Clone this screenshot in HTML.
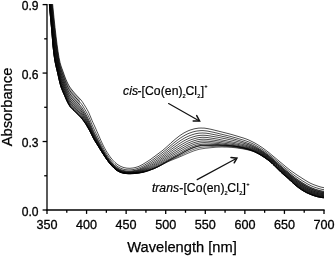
<!DOCTYPE html>
<html><head><meta charset="utf-8"><title>Absorbance spectra</title>
<style>
html,body{margin:0;padding:0;background:#fff;}
svg{display:block;font-family:"Liberation Sans",Arial,sans-serif;}
</style></head><body>
<svg width="335" height="256" viewBox="0 0 335 256">
<rect width="335" height="256" fill="#fff"/>
<defs><linearGradient id="g1" gradientUnits="userSpaceOnUse" x1="240" y1="0" x2="324" y2="0">
<stop offset="0" stop-color="#000" stop-opacity="0"/><stop offset="0.28" stop-color="#000" stop-opacity="0.6"/><stop offset="1" stop-color="#000" stop-opacity="0.65"/></linearGradient>
<linearGradient id="g2" gradientUnits="userSpaceOnUse" x1="47" y1="0" x2="150" y2="0">
<stop offset="0.000" stop-color="#000" stop-opacity="0.7"/><stop offset="0.146" stop-color="#000" stop-opacity="0.6"/><stop offset="0.223" stop-color="#000" stop-opacity="0.35"/><stop offset="0.359" stop-color="#000" stop-opacity="0.3"/><stop offset="0.466" stop-color="#000" stop-opacity="0.5"/><stop offset="0.854" stop-color="#000" stop-opacity="0.5"/><stop offset="1.000" stop-color="#000" stop-opacity="0"/></linearGradient><clipPath id="c"><rect x="47.0" y="3.9" width="276.9" height="206.1"/></clipPath></defs>
<g clip-path="url(#c)" fill="none" stroke="#000" stroke-width="0.7" stroke-linejoin="round">
<path d="M52.0,-2.2 53.0,7.8 54.0,17.8 55.0,27.3 56.0,36.1 57.0,44.2 58.0,51.3 59.0,57.5 60.0,62.4 61.0,65.9 62.0,68.7 63.0,71.4 64.0,74.3 65.0,77.1 66.0,79.6 67.0,81.8 68.0,83.9 69.0,85.7 70.0,87.3 71.0,88.7 72.0,90.0 73.0,91.2 74.0,92.4 75.0,93.6 76.0,94.7 77.0,95.8 78.0,96.8 79.0,97.9 80.0,98.9 81.0,100.0 82.0,101.3 83.0,102.8 84.0,104.4 85.0,106.0 86.0,107.6 87.0,109.3 88.0,111.1 89.0,113.1 90.0,115.5 91.0,118.0 92.0,120.4 93.0,122.7 94.0,124.8 95.0,127.0 96.0,129.2 97.0,131.5 98.0,133.7 99.0,136.1 100.0,138.4 101.0,140.7 102.0,142.9 103.0,145.0 104.0,147.0 105.0,148.8 106.0,150.5 107.0,152.2 108.0,153.7 109.0,155.2 110.0,156.7 111.0,158.0 112.0,159.2 113.0,160.4 114.0,161.4 115.0,162.4 116.0,163.3 117.0,164.1 118.0,164.8 119.0,165.4 120.0,166.0 121.0,166.5 122.0,166.9 123.0,167.3 124.0,167.6 125.0,167.8 126.0,168.0 127.0,168.2 128.0,168.2 129.0,168.3 130.0,168.3 131.0,168.2 132.0,168.1 133.0,168.0 134.0,167.8 135.0,167.6 136.0,167.3 137.0,167.0 138.0,166.7 139.0,166.3 140.0,165.8 141.0,165.3 142.0,164.8 143.0,164.2 144.0,163.6 145.0,163.0 146.0,162.4 147.0,161.7 148.0,161.1 149.0,160.4 150.0,159.8 151.0,159.1 152.0,158.3 153.0,157.6 154.0,156.9 155.0,156.1 156.0,155.4 157.0,154.6 158.0,153.9 159.0,153.1 160.0,152.4 161.0,151.6 162.0,150.9 163.0,150.1 164.0,149.2 165.0,148.4 166.0,147.5 167.0,146.6 168.0,145.7 169.0,144.8 170.0,143.9 171.0,142.9 172.0,142.0 173.0,141.1 174.0,140.3 175.0,139.4 176.0,138.6 177.0,137.8 178.0,137.0 179.0,136.2 180.0,135.5 181.0,134.8 182.0,134.2 183.0,133.5 184.0,132.9 185.0,132.4 186.0,131.9 187.0,131.4 188.0,130.9 189.0,130.5 190.0,130.1 191.0,129.8 192.0,129.5 193.0,129.2 194.0,128.9 195.0,128.7 196.0,128.5 197.0,128.4 198.0,128.2 199.0,128.1 200.0,128.1 201.0,128.0 202.0,128.1 203.0,128.1 204.0,128.1 205.0,128.2 206.0,128.4 207.0,128.5 208.0,128.7 209.0,128.9 210.0,129.1 211.0,129.3 212.0,129.5 213.0,129.8 214.0,130.0 215.0,130.3 216.0,130.5 217.0,130.8 218.0,131.0 219.0,131.3 220.0,131.5 221.0,131.8 222.0,132.0 223.0,132.3 224.0,132.5 225.0,132.8 226.0,133.0 227.0,133.3 228.0,133.5 229.0,133.8 230.0,134.1 231.0,134.3 232.0,134.6 233.0,134.9 234.0,135.2 235.0,135.5 236.0,135.8 237.0,136.1 238.0,136.4 239.0,136.7 240.0,137.0 241.0,137.3 242.0,137.6 243.0,137.9 244.0,138.2 245.0,138.6 246.0,138.9 247.0,139.3 248.0,139.7 249.0,140.1 250.0,140.6 251.0,141.1 252.0,141.6 253.0,142.1 254.0,142.6 255.0,143.1 256.0,143.7 257.0,144.3 258.0,144.9 259.0,145.5 260.0,146.2 261.0,146.8 262.0,147.5 263.0,148.2 264.0,148.9 265.0,149.7 266.0,150.4 267.0,151.2 268.0,151.9 269.0,152.7 270.0,153.5 271.0,154.4 272.0,155.2 273.0,156.0 274.0,156.9 275.0,157.7 276.0,158.5 277.0,159.4 278.0,160.2 279.0,161.0 280.0,161.9 281.0,162.7 282.0,163.5 283.0,164.4 284.0,165.2 285.0,166.0 286.0,166.9 287.0,167.7 288.0,168.5 289.0,169.3 290.0,170.1 291.0,170.8 292.0,171.5 293.0,172.2 294.0,172.9 295.0,173.6 296.0,174.3 297.0,175.0 298.0,175.6 299.0,176.3 300.0,176.9 301.0,177.5 302.0,178.2 303.0,178.8 304.0,179.5 305.0,180.1 306.0,180.7 307.0,181.3 308.0,181.9 309.0,182.5 310.0,183.0 311.0,183.5 312.0,183.9 313.0,184.4 314.0,184.8 315.0,185.1 316.0,185.5 317.0,185.8 318.0,186.2 319.0,186.5 320.0,186.8 321.0,187.1 322.0,187.3 323.0,187.5 324.0,187.7"/>
<path d="M52.0,4.3 53.0,14.7 54.0,24.5 55.0,33.5 56.0,41.6 57.0,49.0 58.0,55.6 59.0,61.5 60.0,66.2 61.0,69.7 62.0,72.5 63.0,75.2 64.0,77.9 65.0,80.6 66.0,83.1 67.0,85.3 68.0,87.4 69.0,89.2 70.0,90.8 71.0,92.2 72.0,93.4 73.0,94.6 74.0,95.7 75.0,96.9 76.0,98.0 77.0,99.0 78.0,100.1 79.0,101.2 80.0,102.3 81.0,103.4 82.0,104.8 83.0,106.3 84.0,108.0 85.0,109.7 86.0,111.4 87.0,113.2 88.0,115.2 89.0,117.3 90.0,119.6 91.0,122.1 92.0,124.6 93.0,126.9 94.0,129.0 95.0,131.2 96.0,133.2 97.0,135.3 98.0,137.5 99.0,139.6 100.0,141.7 101.0,143.8 102.0,145.8 103.0,147.7 104.0,149.6 105.0,151.3 106.0,153.0 107.0,154.5 108.0,156.1 109.0,157.5 110.0,158.9 111.0,160.2 112.0,161.4 113.0,162.5 114.0,163.5 115.0,164.5 116.0,165.3 117.0,166.1 118.0,166.8 119.0,167.4 120.0,167.9 121.0,168.3 122.0,168.7 123.0,169.1 124.0,169.3 125.0,169.6 126.0,169.7 127.0,169.8 128.0,169.9 129.0,169.9 130.0,169.9 131.0,169.8 132.0,169.7 133.0,169.6 134.0,169.4 135.0,169.2 136.0,168.9 137.0,168.6 138.0,168.3 139.0,167.9 140.0,167.5 141.0,167.0 142.0,166.5 143.0,166.0 144.0,165.4 145.0,164.8 146.0,164.2 147.0,163.6 148.0,163.0 149.0,162.3 150.0,161.7 151.0,161.0 152.0,160.3 153.0,159.6 154.0,158.9 155.0,158.1 156.0,157.4 157.0,156.7 158.0,155.9 159.0,155.2 160.0,154.4 161.0,153.7 162.0,152.9 163.0,152.1 164.0,151.3 165.0,150.5 166.0,149.7 167.0,148.8 168.0,147.9 169.0,147.1 170.0,146.2 171.0,145.3 172.0,144.5 173.0,143.6 174.0,142.8 175.0,142.0 176.0,141.2 177.0,140.5 178.0,139.7 179.0,139.0 180.0,138.3 181.0,137.6 182.0,137.0 183.0,136.4 184.0,135.8 185.0,135.2 186.0,134.7 187.0,134.2 188.0,133.7 189.0,133.3 190.0,132.9 191.0,132.6 192.0,132.2 193.0,131.9 194.0,131.7 195.0,131.4 196.0,131.2 197.0,131.0 198.0,130.9 199.0,130.8 200.0,130.7 201.0,130.6 202.0,130.6 203.0,130.6 204.0,130.7 205.0,130.8 206.0,130.9 207.0,131.0 208.0,131.2 209.0,131.4 210.0,131.6 211.0,131.8 212.0,132.0 213.0,132.2 214.0,132.4 215.0,132.7 216.0,132.9 217.0,133.1 218.0,133.4 219.0,133.6 220.0,133.9 221.0,134.1 222.0,134.3 223.0,134.6 224.0,134.8 225.0,135.1 226.0,135.3 227.0,135.5 228.0,135.8 229.0,136.0 230.0,136.3 231.0,136.5 232.0,136.8 233.0,137.1 234.0,137.4 235.0,137.6 236.0,137.9 237.0,138.2 238.0,138.5 239.0,138.8 240.0,139.1 241.0,139.4 242.0,139.7 243.0,140.0 244.0,140.3 245.0,140.6 246.0,141.0 247.0,141.3 248.0,141.7 249.0,142.1 250.0,142.5 251.0,143.0 252.0,143.4 253.0,143.9 254.0,144.4 255.0,144.9 256.0,145.5 257.0,146.1 258.0,146.7 259.0,147.3 260.0,147.9 261.0,148.6 262.0,149.2 263.0,149.9 264.0,150.6 265.0,151.3 266.0,152.0 267.0,152.8 268.0,153.6 269.0,154.3 270.0,155.2 271.0,156.0 272.0,156.8 273.0,157.7 274.0,158.6 275.0,159.4 276.0,160.3 277.0,161.2 278.0,162.0 279.0,162.9 280.0,163.8 281.0,164.6 282.0,165.5 283.0,166.3 284.0,167.2 285.0,168.0 286.0,168.8 287.0,169.6 288.0,170.5 289.0,171.3 290.0,172.1 291.0,172.9 292.0,173.7 293.0,174.4 294.0,175.2 295.0,175.9 296.0,176.6 297.0,177.3 298.0,177.9 299.0,178.6 300.0,179.3 301.0,179.9 302.0,180.6 303.0,181.2 304.0,181.8 305.0,182.4 306.0,183.0 307.0,183.6 308.0,184.2 309.0,184.7 310.0,185.2 311.0,185.7 312.0,186.2 313.0,186.6 314.0,187.0 315.0,187.3 316.0,187.7 317.0,188.0 318.0,188.3 319.0,188.6 320.0,188.9 321.0,189.1 322.0,189.4 323.0,189.5 324.0,189.7"/>
<path d="M51.0,-0.5 52.0,10.0 53.0,20.8 54.0,30.4 55.0,38.9 56.0,46.3 57.0,53.1 58.0,59.3 59.0,64.9 60.0,69.6 61.0,73.0 62.0,75.8 63.0,78.4 64.0,81.1 65.0,83.7 66.0,86.2 67.0,88.4 68.0,90.4 69.0,92.2 70.0,93.8 71.0,95.2 72.0,96.4 73.0,97.5 74.0,98.6 75.0,99.7 76.0,100.8 77.0,101.9 78.0,103.0 79.0,104.0 80.0,105.1 81.0,106.3 82.0,107.7 83.0,109.2 84.0,110.9 85.0,112.6 86.0,114.4 87.0,116.3 88.0,118.3 89.0,120.4 90.0,122.8 91.0,125.2 92.0,127.6 93.0,129.9 94.0,132.1 95.0,134.1 96.0,136.1 97.0,138.1 98.0,140.1 99.0,142.1 100.0,144.0 101.0,146.0 102.0,147.9 103.0,149.7 104.0,151.4 105.0,153.1 106.0,154.7 107.0,156.2 108.0,157.7 109.0,159.1 110.0,160.4 111.0,161.7 112.0,162.9 113.0,164.0 114.0,165.0 115.0,165.9 116.0,166.7 117.0,167.5 118.0,168.1 119.0,168.7 120.0,169.2 121.0,169.7 122.0,170.0 123.0,170.3 124.0,170.6 125.0,170.8 126.0,170.9 127.0,171.0 128.0,171.1 129.0,171.1 130.0,171.1 131.0,171.0 132.0,170.9 133.0,170.7 134.0,170.6 135.0,170.4 136.0,170.1 137.0,169.9 138.0,169.5 139.0,169.2 140.0,168.8 141.0,168.3 142.0,167.9 143.0,167.4 144.0,166.9 145.0,166.3 146.0,165.7 147.0,165.2 148.0,164.6 149.0,163.9 150.0,163.3 151.0,162.7 152.0,162.0 153.0,161.3 154.0,160.6 155.0,159.9 156.0,159.2 157.0,158.5 158.0,157.8 159.0,157.0 160.0,156.3 161.0,155.6 162.0,154.8 163.0,154.0 164.0,153.3 165.0,152.5 166.0,151.7 167.0,150.8 168.0,150.0 169.0,149.2 170.0,148.4 171.0,147.5 172.0,146.7 173.0,145.9 174.0,145.2 175.0,144.4 176.0,143.7 177.0,143.0 178.0,142.2 179.0,141.6 180.0,140.9 181.0,140.2 182.0,139.6 183.0,139.0 184.0,138.4 185.0,137.8 186.0,137.3 187.0,136.8 188.0,136.4 189.0,135.9 190.0,135.5 191.0,135.2 192.0,134.8 193.0,134.5 194.0,134.2 195.0,133.9 196.0,133.7 197.0,133.5 198.0,133.3 199.0,133.2 200.0,133.1 201.0,133.1 202.0,133.0 203.0,133.0 204.0,133.1 205.0,133.1 206.0,133.2 207.0,133.3 208.0,133.5 209.0,133.6 210.0,133.8 211.0,134.0 212.0,134.2 213.0,134.4 214.0,134.6 215.0,134.8 216.0,135.0 217.0,135.2 218.0,135.4 219.0,135.6 220.0,135.8 221.0,136.0 222.0,136.3 223.0,136.5 224.0,136.7 225.0,136.9 226.0,137.1 227.0,137.4 228.0,137.6 229.0,137.8 230.0,138.1 231.0,138.3 232.0,138.6 233.0,138.8 234.0,139.1 235.0,139.4 236.0,139.6 237.0,139.9 238.0,140.2 239.0,140.5 240.0,140.8 241.0,141.1 242.0,141.4 243.0,141.7 244.0,142.0 245.0,142.3 246.0,142.6 247.0,143.0 248.0,143.3 249.0,143.7 250.0,144.1 251.0,144.5 252.0,144.9 253.0,145.4 254.0,145.9 255.0,146.4 256.0,146.9 257.0,147.5 258.0,148.1 259.0,148.7 260.0,149.3 261.0,149.9 262.0,150.6 263.0,151.3 264.0,151.9 265.0,152.6 266.0,153.4 267.0,154.1 268.0,154.9 269.0,155.6 270.0,156.5 271.0,157.3 272.0,158.2 273.0,159.0 274.0,159.9 275.0,160.8 276.0,161.7 277.0,162.6 278.0,163.5 279.0,164.4 280.0,165.3 281.0,166.1 282.0,167.0 283.0,167.9 284.0,168.7 285.0,169.5 286.0,170.4 287.0,171.2 288.0,172.0 289.0,172.9 290.0,173.7 291.0,174.5 292.0,175.4 293.0,176.1 294.0,176.9 295.0,177.7 296.0,178.4 297.0,179.1 298.0,179.8 299.0,180.5 300.0,181.2 301.0,181.8 302.0,182.5 303.0,183.1 304.0,183.7 305.0,184.3 306.0,184.9 307.0,185.5 308.0,186.0 309.0,186.6 310.0,187.0 311.0,187.5 312.0,187.9 313.0,188.3 314.0,188.7 315.0,189.1 316.0,189.4 317.0,189.7 318.0,190.0 319.0,190.3 320.0,190.6 321.0,190.8 322.0,191.0 323.0,191.2 324.0,191.3"/>
<path d="M51.0,4.3 52.0,14.9 53.0,26.0 54.0,35.5 55.0,43.6 56.0,50.5 57.0,56.7 58.0,62.5 59.0,67.9 60.0,72.4 61.0,75.9 62.0,78.7 63.0,81.2 64.0,83.9 65.0,86.4 66.0,88.8 67.0,91.0 68.0,93.0 69.0,94.9 70.0,96.5 71.0,97.8 72.0,99.0 73.0,100.0 74.0,101.1 75.0,102.2 76.0,103.3 77.0,104.3 78.0,105.4 79.0,106.5 80.0,107.6 81.0,108.8 82.0,110.2 83.0,111.7 84.0,113.3 85.0,115.0 86.0,116.8 87.0,118.7 88.0,120.7 89.0,122.8 90.0,125.1 91.0,127.5 92.0,129.9 93.0,132.1 94.0,134.3 95.0,136.3 96.0,138.1 97.0,140.0 98.0,141.9 99.0,143.8 100.0,145.7 101.0,147.5 102.0,149.3 103.0,151.0 104.0,152.7 105.0,154.3 106.0,155.9 107.0,157.4 108.0,158.8 109.0,160.2 110.0,161.5 111.0,162.8 112.0,163.9 113.0,165.0 114.0,166.0 115.0,166.9 116.0,167.7 117.0,168.5 118.0,169.1 119.0,169.7 120.0,170.2 121.0,170.6 122.0,170.9 123.0,171.2 124.0,171.4 125.0,171.6 126.0,171.8 127.0,171.9 128.0,171.9 129.0,171.9 130.0,171.9 131.0,171.8 132.0,171.7 133.0,171.6 134.0,171.4 135.0,171.2 136.0,171.0 137.0,170.8 138.0,170.5 139.0,170.2 140.0,169.8 141.0,169.4 142.0,169.0 143.0,168.5 144.0,168.1 145.0,167.5 146.0,167.0 147.0,166.5 148.0,165.9 149.0,165.3 150.0,164.7 151.0,164.1 152.0,163.5 153.0,162.9 154.0,162.2 155.0,161.5 156.0,160.9 157.0,160.2 158.0,159.5 159.0,158.7 160.0,158.0 161.0,157.3 162.0,156.6 163.0,155.8 164.0,155.1 165.0,154.3 166.0,153.5 167.0,152.7 168.0,151.9 169.0,151.1 170.0,150.4 171.0,149.6 172.0,148.8 173.0,148.1 174.0,147.4 175.0,146.7 176.0,146.0 177.0,145.3 178.0,144.6 179.0,143.9 180.0,143.3 181.0,142.6 182.0,142.0 183.0,141.4 184.0,140.8 185.0,140.3 186.0,139.7 187.0,139.3 188.0,138.8 189.0,138.3 190.0,137.9 191.0,137.6 192.0,137.2 193.0,136.9 194.0,136.6 195.0,136.3 196.0,136.0 197.0,135.8 198.0,135.6 199.0,135.5 200.0,135.4 201.0,135.3 202.0,135.3 203.0,135.2 204.0,135.3 205.0,135.3 206.0,135.4 207.0,135.5 208.0,135.6 209.0,135.8 210.0,135.9 211.0,136.1 212.0,136.3 213.0,136.4 214.0,136.6 215.0,136.8 216.0,137.0 217.0,137.1 218.0,137.3 219.0,137.5 220.0,137.7 221.0,137.9 222.0,138.1 223.0,138.3 224.0,138.5 225.0,138.7 226.0,138.9 227.0,139.1 228.0,139.3 229.0,139.5 230.0,139.8 231.0,140.0 232.0,140.2 233.0,140.4 234.0,140.7 235.0,140.9 236.0,141.2 237.0,141.5 238.0,141.7 239.0,142.0 240.0,142.2 241.0,142.5 242.0,142.8 243.0,143.1 244.0,143.4 245.0,143.7 246.0,144.0 247.0,144.3 248.0,144.6 249.0,145.0 250.0,145.4 251.0,145.8 252.0,146.2 253.0,146.6 254.0,147.1 255.0,147.6 256.0,148.1 257.0,148.6 258.0,149.2 259.0,149.8 260.0,150.4 261.0,151.0 262.0,151.7 263.0,152.3 264.0,153.0 265.0,153.7 266.0,154.4 267.0,155.1 268.0,155.9 269.0,156.7 270.0,157.5 271.0,158.3 272.0,159.2 273.0,160.1 274.0,161.0 275.0,161.9 276.0,162.8 277.0,163.7 278.0,164.6 279.0,165.5 280.0,166.5 281.0,167.3 282.0,168.2 283.0,169.1 284.0,169.9 285.0,170.8 286.0,171.6 287.0,172.4 288.0,173.3 289.0,174.1 290.0,175.0 291.0,175.8 292.0,176.7 293.0,177.5 294.0,178.3 295.0,179.1 296.0,179.8 297.0,180.6 298.0,181.3 299.0,182.0 300.0,182.6 301.0,183.3 302.0,184.0 303.0,184.6 304.0,185.2 305.0,185.8 306.0,186.4 307.0,186.9 308.0,187.5 309.0,188.0 310.0,188.4 311.0,188.9 312.0,189.3 313.0,189.7 314.0,190.1 315.0,190.4 316.0,190.8 317.0,191.1 318.0,191.3 319.0,191.6 320.0,191.9 321.0,192.1 322.0,192.3 323.0,192.5 324.0,192.6"/>
<path d="M50.0,-2.0 51.0,8.4 52.0,19.2 53.0,30.6 54.0,40.0 55.0,47.7 56.0,54.1 57.0,59.8 58.0,65.3 59.0,70.5 60.0,75.0 61.0,78.5 62.0,81.2 63.0,83.7 64.0,86.3 65.0,88.7 66.0,91.1 67.0,93.3 68.0,95.3 69.0,97.2 70.0,98.8 71.0,100.1 72.0,101.2 73.0,102.3 74.0,103.3 75.0,104.4 76.0,105.4 77.0,106.5 78.0,107.5 79.0,108.6 80.0,109.7 81.0,110.9 82.0,112.2 83.0,113.7 84.0,115.3 85.0,117.0 86.0,118.8 87.0,120.6 88.0,122.6 89.0,124.7 90.0,126.9 91.0,129.2 92.0,131.5 93.0,133.8 94.0,135.9 95.0,137.8 96.0,139.6 97.0,141.4 98.0,143.2 99.0,145.0 100.0,146.8 101.0,148.6 102.0,150.3 103.0,152.0 104.0,153.6 105.0,155.2 106.0,156.7 107.0,158.2 108.0,159.6 109.0,161.0 110.0,162.3 111.0,163.5 112.0,164.7 113.0,165.7 114.0,166.7 115.0,167.6 116.0,168.4 117.0,169.1 118.0,169.8 119.0,170.3 120.0,170.8 121.0,171.2 122.0,171.6 123.0,171.8 124.0,172.1 125.0,172.2 126.0,172.4 127.0,172.4 128.0,172.5 129.0,172.5 130.0,172.5 131.0,172.4 132.0,172.3 133.0,172.2 134.0,172.1 135.0,171.9 136.0,171.7 137.0,171.5 138.0,171.2 139.0,170.9 140.0,170.6 141.0,170.3 142.0,169.9 143.0,169.5 144.0,169.0 145.0,168.6 146.0,168.1 147.0,167.6 148.0,167.1 149.0,166.5 150.0,166.0 151.0,165.4 152.0,164.8 153.0,164.2 154.0,163.6 155.0,163.0 156.0,162.3 157.0,161.7 158.0,161.0 159.0,160.3 160.0,159.6 161.0,158.9 162.0,158.2 163.0,157.4 164.0,156.7 165.0,156.0 166.0,155.2 167.0,154.5 168.0,153.7 169.0,153.0 170.0,152.2 171.0,151.5 172.0,150.8 173.0,150.1 174.0,149.4 175.0,148.7 176.0,148.1 177.0,147.4 178.0,146.8 179.0,146.1 180.0,145.5 181.0,144.9 182.0,144.3 183.0,143.7 184.0,143.1 185.0,142.6 186.0,142.0 187.0,141.5 188.0,141.0 189.0,140.6 190.0,140.2 191.0,139.8 192.0,139.4 193.0,139.1 194.0,138.8 195.0,138.5 196.0,138.2 197.0,138.0 198.0,137.8 199.0,137.6 200.0,137.5 201.0,137.4 202.0,137.3 203.0,137.3 204.0,137.3 205.0,137.4 206.0,137.4 207.0,137.5 208.0,137.6 209.0,137.8 210.0,137.9 211.0,138.1 212.0,138.2 213.0,138.4 214.0,138.5 215.0,138.7 216.0,138.9 217.0,139.0 218.0,139.2 219.0,139.4 220.0,139.6 221.0,139.8 222.0,140.0 223.0,140.2 224.0,140.4 225.0,140.5 226.0,140.7 227.0,140.9 228.0,141.1 229.0,141.3 230.0,141.5 231.0,141.7 232.0,141.9 233.0,142.1 234.0,142.3 235.0,142.5 236.0,142.7 237.0,143.0 238.0,143.2 239.0,143.5 240.0,143.7 241.0,144.0 242.0,144.2 243.0,144.5 244.0,144.7 245.0,145.0 246.0,145.3 247.0,145.6 248.0,145.9 249.0,146.3 250.0,146.6 251.0,147.0 252.0,147.4 253.0,147.8 254.0,148.2 255.0,148.7 256.0,149.2 257.0,149.7 258.0,150.2 259.0,150.8 260.0,151.4 261.0,152.0 262.0,152.7 263.0,153.3 264.0,154.0 265.0,154.7 266.0,155.3 267.0,156.1 268.0,156.8 269.0,157.6 270.0,158.4 271.0,159.3 272.0,160.1 273.0,161.0 274.0,161.9 275.0,162.9 276.0,163.8 277.0,164.7 278.0,165.7 279.0,166.6 280.0,167.5 281.0,168.5 282.0,169.3 283.0,170.2 284.0,171.1 285.0,171.9 286.0,172.7 287.0,173.6 288.0,174.4 289.0,175.3 290.0,176.2 291.0,177.0 292.0,177.9 293.0,178.7 294.0,179.6 295.0,180.4 296.0,181.1 297.0,181.9 298.0,182.6 299.0,183.3 300.0,184.0 301.0,184.7 302.0,185.3 303.0,185.9 304.0,186.6 305.0,187.1 306.0,187.7 307.0,188.3 308.0,188.8 309.0,189.3 310.0,189.7 311.0,190.2 312.0,190.6 313.0,191.0 314.0,191.3 315.0,191.7 316.0,192.0 317.0,192.3 318.0,192.6 319.0,192.8 320.0,193.1 321.0,193.3 322.0,193.5 323.0,193.6 324.0,193.7"/>
<path d="M50.0,1.6 51.0,12.1 52.0,22.9 53.0,34.6 54.0,43.8 55.0,51.3 56.0,57.3 57.0,62.5 58.0,67.7 59.0,72.8 60.0,77.2 61.0,80.6 62.0,83.4 63.0,85.8 64.0,88.4 65.0,90.8 66.0,93.1 67.0,95.3 68.0,97.3 69.0,99.2 70.0,100.8 71.0,102.1 72.0,103.2 73.0,104.2 74.0,105.2 75.0,106.2 76.0,107.3 77.0,108.3 78.0,109.4 79.0,110.4 80.0,111.5 81.0,112.7 82.0,114.0 83.0,115.4 84.0,117.0 85.0,118.6 86.0,120.3 87.0,122.2 88.0,124.1 89.0,126.1 90.0,128.3 91.0,130.5 92.0,132.8 93.0,135.0 94.0,137.0 95.0,138.9 96.0,140.6 97.0,142.4 98.0,144.1 99.0,145.9 100.0,147.6 101.0,149.3 102.0,151.0 103.0,152.6 104.0,154.2 105.0,155.8 106.0,157.3 107.0,158.8 108.0,160.2 109.0,161.5 110.0,162.8 111.0,164.0 112.0,165.2 113.0,166.2 114.0,167.2 115.0,168.1 116.0,168.9 117.0,169.6 118.0,170.3 119.0,170.8 120.0,171.3 121.0,171.7 122.0,172.0 123.0,172.3 124.0,172.5 125.0,172.6 126.0,172.8 127.0,172.9 128.0,172.9 129.0,172.9 130.0,172.9 131.0,172.8 132.0,172.7 133.0,172.6 134.0,172.5 135.0,172.4 136.0,172.2 137.0,172.0 138.0,171.8 139.0,171.5 140.0,171.3 141.0,171.0 142.0,170.6 143.0,170.3 144.0,169.9 145.0,169.4 146.0,169.0 147.0,168.5 148.0,168.1 149.0,167.6 150.0,167.0 151.0,166.5 152.0,166.0 153.0,165.4 154.0,164.8 155.0,164.2 156.0,163.6 157.0,163.0 158.0,162.4 159.0,161.7 160.0,161.0 161.0,160.3 162.0,159.6 163.0,158.9 164.0,158.2 165.0,157.5 166.0,156.8 167.0,156.1 168.0,155.4 169.0,154.7 170.0,154.0 171.0,153.3 172.0,152.6 173.0,152.0 174.0,151.3 175.0,150.7 176.0,150.1 177.0,149.4 178.0,148.8 179.0,148.2 180.0,147.6 181.0,147.0 182.0,146.4 183.0,145.8 184.0,145.2 185.0,144.7 186.0,144.1 187.0,143.6 188.0,143.1 189.0,142.7 190.0,142.3 191.0,141.9 192.0,141.5 193.0,141.1 194.0,140.8 195.0,140.5 196.0,140.2 197.0,139.9 198.0,139.7 199.0,139.6 200.0,139.4 201.0,139.3 202.0,139.3 203.0,139.2 204.0,139.2 205.0,139.3 206.0,139.3 207.0,139.4 208.0,139.5 209.0,139.6 210.0,139.7 211.0,139.8 212.0,140.0 213.0,140.1 214.0,140.2 215.0,140.4 216.0,140.5 217.0,140.7 218.0,140.8 219.0,141.0 220.0,141.1 221.0,141.3 222.0,141.5 223.0,141.7 224.0,141.8 225.0,142.0 226.0,142.2 227.0,142.3 228.0,142.5 229.0,142.6 230.0,142.8 231.0,143.0 232.0,143.2 233.0,143.4 234.0,143.5 235.0,143.8 236.0,144.0 237.0,144.2 238.0,144.4 239.0,144.6 240.0,144.9 241.0,145.1 242.0,145.3 243.0,145.6 244.0,145.8 245.0,146.1 246.0,146.4 247.0,146.7 248.0,147.0 249.0,147.3 250.0,147.6 251.0,148.0 252.0,148.3 253.0,148.7 254.0,149.2 255.0,149.6 256.0,150.1 257.0,150.6 258.0,151.1 259.0,151.7 260.0,152.3 261.0,152.9 262.0,153.5 263.0,154.2 264.0,154.8 265.0,155.5 266.0,156.2 267.0,156.9 268.0,157.6 269.0,158.4 270.0,159.2 271.0,160.1 272.0,161.0 273.0,161.9 274.0,162.8 275.0,163.7 276.0,164.7 277.0,165.6 278.0,166.6 279.0,167.5 280.0,168.5 281.0,169.4 282.0,170.3 283.0,171.2 284.0,172.0 285.0,172.9 286.0,173.7 287.0,174.5 288.0,175.4 289.0,176.3 290.0,177.2 291.0,178.1 292.0,179.0 293.0,179.8 294.0,180.7 295.0,181.5 296.0,182.3 297.0,183.0 298.0,183.8 299.0,184.5 300.0,185.2 301.0,185.9 302.0,186.5 303.0,187.1 304.0,187.7 305.0,188.3 306.0,188.9 307.0,189.4 308.0,189.9 309.0,190.4 310.0,190.9 311.0,191.3 312.0,191.7 313.0,192.1 314.0,192.4 315.0,192.8 316.0,193.1 317.0,193.4 318.0,193.6 319.0,193.9 320.0,194.1 321.0,194.3 322.0,194.5 323.0,194.6 324.0,194.8"/>
<path d="M50.0,4.7 51.0,15.2 52.0,26.2 53.0,38.0 54.0,47.2 55.0,54.4 56.0,60.0 57.0,64.9 58.0,69.9 59.0,74.7 60.0,79.1 61.0,82.6 62.0,85.3 63.0,87.7 64.0,90.2 65.0,92.6 66.0,94.9 67.0,97.1 68.0,99.1 69.0,100.9 70.0,102.5 71.0,103.8 72.0,104.9 73.0,105.8 74.0,106.8 75.0,107.9 76.0,108.9 77.0,109.9 78.0,111.0 79.0,112.0 80.0,113.1 81.0,114.2 82.0,115.5 83.0,116.9 84.0,118.4 85.0,120.0 86.0,121.7 87.0,123.4 88.0,125.3 89.0,127.3 90.0,129.3 91.0,131.5 92.0,133.7 93.0,135.9 94.0,137.9 95.0,139.7 96.0,141.4 97.0,143.1 98.0,144.8 99.0,146.5 100.0,148.2 101.0,149.9 102.0,151.5 103.0,153.1 104.0,154.7 105.0,156.2 106.0,157.7 107.0,159.2 108.0,160.6 109.0,161.9 110.0,163.2 111.0,164.4 112.0,165.5 113.0,166.6 114.0,167.6 115.0,168.5 116.0,169.3 117.0,170.0 118.0,170.6 119.0,171.1 120.0,171.6 121.0,172.0 122.0,172.3 123.0,172.6 124.0,172.8 125.0,172.9 126.0,173.1 127.0,173.1 128.0,173.2 129.0,173.2 130.0,173.2 131.0,173.1 132.0,173.1 133.0,173.0 134.0,172.9 135.0,172.7 136.0,172.6 137.0,172.4 138.0,172.2 139.0,172.0 140.0,171.8 141.0,171.5 142.0,171.2 143.0,170.9 144.0,170.5 145.0,170.2 146.0,169.8 147.0,169.3 148.0,168.9 149.0,168.4 150.0,168.0 151.0,167.5 152.0,167.0 153.0,166.5 154.0,165.9 155.0,165.4 156.0,164.8 157.0,164.2 158.0,163.6 159.0,163.0 160.0,162.3 161.0,161.7 162.0,161.0 163.0,160.3 164.0,159.7 165.0,159.0 166.0,158.3 167.0,157.6 168.0,156.9 169.0,156.3 170.0,155.6 171.0,154.9 172.0,154.3 173.0,153.7 174.0,153.1 175.0,152.5 176.0,151.9 177.0,151.3 178.0,150.7 179.0,150.1 180.0,149.5 181.0,148.9 182.0,148.3 183.0,147.8 184.0,147.2 185.0,146.6 186.0,146.1 187.0,145.6 188.0,145.1 189.0,144.6 190.0,144.2 191.0,143.8 192.0,143.4 193.0,143.0 194.0,142.7 195.0,142.4 196.0,142.1 197.0,141.8 198.0,141.6 199.0,141.4 200.0,141.2 201.0,141.1 202.0,141.0 203.0,141.0 204.0,141.0 205.0,141.0 206.0,141.1 207.0,141.1 208.0,141.2 209.0,141.3 210.0,141.4 211.0,141.5 212.0,141.6 213.0,141.7 214.0,141.8 215.0,141.9 216.0,142.1 217.0,142.2 218.0,142.3 219.0,142.4 220.0,142.6 221.0,142.7 222.0,142.9 223.0,143.1 224.0,143.2 225.0,143.4 226.0,143.5 227.0,143.6 228.0,143.8 229.0,143.9 230.0,144.0 231.0,144.2 232.0,144.3 233.0,144.5 234.0,144.7 235.0,144.8 236.0,145.0 237.0,145.2 238.0,145.4 239.0,145.6 240.0,145.8 241.0,146.1 242.0,146.3 243.0,146.5 244.0,146.8 245.0,147.0 246.0,147.3 247.0,147.5 248.0,147.8 249.0,148.1 250.0,148.4 251.0,148.8 252.0,149.2 253.0,149.5 254.0,150.0 255.0,150.4 256.0,150.9 257.0,151.4 258.0,151.9 259.0,152.5 260.0,153.0 261.0,153.6 262.0,154.3 263.0,154.9 264.0,155.6 265.0,156.2 266.0,156.9 267.0,157.6 268.0,158.4 269.0,159.1 270.0,159.9 271.0,160.8 272.0,161.7 273.0,162.6 274.0,163.6 275.0,164.5 276.0,165.5 277.0,166.4 278.0,167.4 279.0,168.4 280.0,169.3 281.0,170.3 282.0,171.2 283.0,172.1 284.0,172.9 285.0,173.7 286.0,174.6 287.0,175.4 288.0,176.3 289.0,177.2 290.0,178.1 291.0,179.0 292.0,179.9 293.0,180.8 294.0,181.7 295.0,182.5 296.0,183.3 297.0,184.1 298.0,184.8 299.0,185.6 300.0,186.3 301.0,186.9 302.0,187.6 303.0,188.2 304.0,188.8 305.0,189.4 306.0,189.9 307.0,190.4 308.0,190.9 309.0,191.4 310.0,191.9 311.0,192.3 312.0,192.7 313.0,193.1 314.0,193.4 315.0,193.8 316.0,194.1 317.0,194.3 318.0,194.6 319.0,194.8 320.0,195.1 321.0,195.3 322.0,195.4 323.0,195.6 324.0,195.7"/>
<path d="M49.0,-4.2 50.0,7.4 51.0,17.9 52.0,29.0 53.0,41.1 54.0,50.1 55.0,57.1 56.0,62.4 57.0,67.0 58.0,71.7 59.0,76.4 60.0,80.7 61.0,84.2 62.0,86.9 63.0,89.3 64.0,91.8 65.0,94.1 66.0,96.4 67.0,98.6 68.0,100.6 69.0,102.4 70.0,104.0 71.0,105.3 72.0,106.3 73.0,107.3 74.0,108.3 75.0,109.3 76.0,110.3 77.0,111.3 78.0,112.4 79.0,113.4 80.0,114.4 81.0,115.6 82.0,116.8 83.0,118.1 84.0,119.6 85.0,121.1 86.0,122.7 87.0,124.5 88.0,126.3 89.0,128.2 90.0,130.2 91.0,132.3 92.0,134.4 93.0,136.5 94.0,138.5 95.0,140.3 96.0,141.9 97.0,143.6 98.0,145.2 99.0,146.9 100.0,148.6 101.0,150.2 102.0,151.9 103.0,153.4 104.0,155.0 105.0,156.5 106.0,158.0 107.0,159.5 108.0,160.9 109.0,162.2 110.0,163.4 111.0,164.7 112.0,165.8 113.0,166.8 114.0,167.8 115.0,168.7 116.0,169.5 117.0,170.2 118.0,170.8 119.0,171.4 120.0,171.8 121.0,172.2 122.0,172.5 123.0,172.8 124.0,173.0 125.0,173.2 126.0,173.3 127.0,173.4 128.0,173.4 129.0,173.4 130.0,173.4 131.0,173.4 132.0,173.3 133.0,173.2 134.0,173.1 135.0,173.0 136.0,172.9 137.0,172.7 138.0,172.6 139.0,172.4 140.0,172.2 141.0,172.0 142.0,171.7 143.0,171.4 144.0,171.1 145.0,170.8 146.0,170.4 147.0,170.0 148.0,169.6 149.0,169.2 150.0,168.8 151.0,168.3 152.0,167.9 153.0,167.4 154.0,166.9 155.0,166.4 156.0,165.9 157.0,165.3 158.0,164.7 159.0,164.2 160.0,163.5 161.0,162.9 162.0,162.3 163.0,161.6 164.0,161.0 165.0,160.3 166.0,159.7 167.0,159.0 168.0,158.4 169.0,157.7 170.0,157.1 171.0,156.5 172.0,155.9 173.0,155.3 174.0,154.7 175.0,154.2 176.0,153.6 177.0,153.0 178.0,152.5 179.0,151.9 180.0,151.3 181.0,150.7 182.0,150.2 183.0,149.6 184.0,149.0 185.0,148.5 186.0,147.9 187.0,147.4 188.0,146.9 189.0,146.5 190.0,146.0 191.0,145.6 192.0,145.2 193.0,144.8 194.0,144.4 195.0,144.1 196.0,143.8 197.0,143.5 198.0,143.3 199.0,143.1 200.0,142.9 201.0,142.8 202.0,142.7 203.0,142.7 204.0,142.6 205.0,142.6 206.0,142.7 207.0,142.7 208.0,142.8 209.0,142.8 210.0,142.9 211.0,143.0 212.0,143.1 213.0,143.1 214.0,143.2 215.0,143.3 216.0,143.4 217.0,143.4 218.0,143.5 219.0,143.6 220.0,143.8 221.0,143.9 222.0,144.0 223.0,144.1 224.0,144.3 225.0,144.4 226.0,144.5 227.0,144.6 228.0,144.7 229.0,144.8 230.0,145.0 231.0,145.1 232.0,145.2 233.0,145.3 234.0,145.5 235.0,145.7 236.0,145.8 237.0,146.0 238.0,146.2 239.0,146.4 240.0,146.6 241.0,146.8 242.0,147.0 243.0,147.2 244.0,147.5 245.0,147.7 246.0,148.0 247.0,148.2 248.0,148.5 249.0,148.8 250.0,149.1 251.0,149.5 252.0,149.8 253.0,150.2 254.0,150.6 255.0,151.1 256.0,151.5 257.0,152.0 258.0,152.6 259.0,153.1 260.0,153.7 261.0,154.3 262.0,154.9 263.0,155.6 264.0,156.2 265.0,156.9 266.0,157.6 267.0,158.3 268.0,159.0 269.0,159.8 270.0,160.6 271.0,161.5 272.0,162.3 273.0,163.3 274.0,164.2 275.0,165.2 276.0,166.2 277.0,167.2 278.0,168.1 279.0,169.1 280.0,170.1 281.0,171.0 282.0,172.0 283.0,172.8 284.0,173.7 285.0,174.5 286.0,175.3 287.0,176.2 288.0,177.1 289.0,178.0 290.0,178.9 291.0,179.9 292.0,180.8 293.0,181.7 294.0,182.5 295.0,183.4 296.0,184.2 297.0,185.0 298.0,185.8 299.0,186.5 300.0,187.2 301.0,187.9 302.0,188.5 303.0,189.2 304.0,189.8 305.0,190.3 306.0,190.9 307.0,191.4 308.0,191.9 309.0,192.3 310.0,192.8 311.0,193.2 312.0,193.6 313.0,194.0 314.0,194.3 315.0,194.6 316.0,194.9 317.0,195.2 318.0,195.5 319.0,195.7 320.0,195.9 321.0,196.1 322.0,196.2 323.0,196.4 324.0,196.5"/>
<path d="M49.0,-1.9 50.0,9.8 51.0,20.3 52.0,31.4 53.0,43.7 54.0,52.7 55.0,59.4 56.0,64.5 57.0,68.7 58.0,73.3 59.0,77.9 60.0,82.2 61.0,85.7 62.0,88.3 63.0,90.7 64.0,93.1 65.0,95.4 66.0,97.7 67.0,99.9 68.0,101.9 69.0,103.7 70.0,105.3 71.0,106.6 72.0,107.6 73.0,108.6 74.0,109.5 75.0,110.5 76.0,111.5 77.0,112.5 78.0,113.6 79.0,114.6 80.0,115.6 81.0,116.7 82.0,117.9 83.0,119.2 84.0,120.6 85.0,122.1 86.0,123.7 87.0,125.3 88.0,127.1 89.0,129.0 90.0,130.9 91.0,132.9 92.0,135.0 93.0,137.1 94.0,139.0 95.0,140.7 96.0,142.3 97.0,143.9 98.0,145.6 99.0,147.2 100.0,148.9 101.0,150.5 102.0,152.1 103.0,153.7 104.0,155.2 105.0,156.7 106.0,158.2 107.0,159.7 108.0,161.1 109.0,162.4 110.0,163.6 111.0,164.8 112.0,166.0 113.0,167.0 114.0,168.0 115.0,168.9 116.0,169.7 117.0,170.4 118.0,171.0 119.0,171.5 120.0,172.0 121.0,172.4 122.0,172.7 123.0,172.9 124.0,173.1 125.0,173.3 126.0,173.4 127.0,173.5 128.0,173.5 129.0,173.6 130.0,173.6 131.0,173.5 132.0,173.5 133.0,173.4 134.0,173.3 135.0,173.2 136.0,173.1 137.0,173.0 138.0,172.9 139.0,172.7 140.0,172.5 141.0,172.3 142.0,172.1 143.0,171.9 144.0,171.6 145.0,171.3 146.0,171.0 147.0,170.6 148.0,170.3 149.0,169.9 150.0,169.5 151.0,169.1 152.0,168.7 153.0,168.2 154.0,167.8 155.0,167.3 156.0,166.8 157.0,166.3 158.0,165.8 159.0,165.2 160.0,164.6 161.0,164.0 162.0,163.4 163.0,162.8 164.0,162.2 165.0,161.6 166.0,160.9 167.0,160.3 168.0,159.7 169.0,159.1 170.0,158.5 171.0,157.9 172.0,157.4 173.0,156.8 174.0,156.3 175.0,155.7 176.0,155.2 177.0,154.7 178.0,154.1 179.0,153.6 180.0,153.0 181.0,152.4 182.0,151.9 183.0,151.3 184.0,150.7 185.0,150.2 186.0,149.6 187.0,149.1 188.0,148.6 189.0,148.1 190.0,147.7 191.0,147.3 192.0,146.8 193.0,146.5 194.0,146.1 195.0,145.7 196.0,145.4 197.0,145.1 198.0,144.9 199.0,144.7 200.0,144.5 201.0,144.4 202.0,144.3 203.0,144.2 204.0,144.2 205.0,144.1 206.0,144.2 207.0,144.2 208.0,144.2 209.0,144.2 210.0,144.3 211.0,144.3 212.0,144.3 213.0,144.4 214.0,144.4 215.0,144.4 216.0,144.5 217.0,144.5 218.0,144.5 219.0,144.6 220.0,144.7 221.0,144.8 222.0,144.9 223.0,145.0 224.0,145.0 225.0,145.1 226.0,145.2 227.0,145.3 228.0,145.4 229.0,145.5 230.0,145.6 231.0,145.7 232.0,145.8 233.0,145.9 234.0,146.1 235.0,146.2 236.0,146.4 237.0,146.6 238.0,146.7 239.0,146.9 240.0,147.1 241.0,147.3 242.0,147.5 243.0,147.8 244.0,148.0 245.0,148.2 246.0,148.5 247.0,148.8 248.0,149.0 249.0,149.3 250.0,149.6 251.0,150.0 252.0,150.3 253.0,150.7 254.0,151.1 255.0,151.6 256.0,152.1 257.0,152.6 258.0,153.1 259.0,153.7 260.0,154.2 261.0,154.8 262.0,155.5 263.0,156.1 264.0,156.8 265.0,157.4 266.0,158.1 267.0,158.8 268.0,159.6 269.0,160.3 270.0,161.2 271.0,162.0 272.0,162.9 273.0,163.9 274.0,164.8 275.0,165.8 276.0,166.8 277.0,167.8 278.0,168.8 279.0,169.8 280.0,170.8 281.0,171.7 282.0,172.6 283.0,173.5 284.0,174.4 285.0,175.2 286.0,176.0 287.0,176.9 288.0,177.8 289.0,178.7 290.0,179.6 291.0,180.6 292.0,181.5 293.0,182.4 294.0,183.3 295.0,184.2 296.0,185.0 297.0,185.8 298.0,186.6 299.0,187.3 300.0,188.0 301.0,188.7 302.0,189.4 303.0,190.0 304.0,190.6 305.0,191.1 306.0,191.7 307.0,192.2 308.0,192.7 309.0,193.1 310.0,193.6 311.0,194.0 312.0,194.4 313.0,194.7 314.0,195.1 315.0,195.4 316.0,195.7 317.0,196.0 318.0,196.2 319.0,196.4 320.0,196.6 321.0,196.8 322.0,197.0 323.0,197.1 324.0,197.2"/>
<path d="M49.0,0.0 50.0,11.9 51.0,22.4 52.0,33.6 53.0,46.0 54.0,54.9 55.0,61.4 56.0,66.3 57.0,70.3 58.0,74.7 59.0,79.2 60.0,83.4 61.0,86.9 62.0,89.6 63.0,92.0 64.0,94.3 65.0,96.6 66.0,98.9 67.0,101.1 68.0,103.1 69.0,104.9 70.0,106.5 71.0,107.7 72.0,108.7 73.0,109.7 74.0,110.6 75.0,111.6 76.0,112.6 77.0,113.6 78.0,114.6 79.0,115.6 80.0,116.6 81.0,117.7 82.0,118.9 83.0,120.1 84.0,121.5 85.0,122.9 86.0,124.4 87.0,126.1 88.0,127.8 89.0,129.6 90.0,131.4 91.0,133.4 92.0,135.4 93.0,137.5 94.0,139.3 95.0,141.1 96.0,142.6 97.0,144.2 98.0,145.8 99.0,147.4 100.0,149.1 101.0,150.7 102.0,152.3 103.0,153.8 104.0,155.4 105.0,156.9 106.0,158.4 107.0,159.8 108.0,161.2 109.0,162.5 110.0,163.8 111.0,165.0 112.0,166.1 113.0,167.1 114.0,168.1 115.0,169.0 116.0,169.8 117.0,170.5 118.0,171.1 119.0,171.6 120.0,172.1 121.0,172.5 122.0,172.8 123.0,173.0 124.0,173.2 125.0,173.4 126.0,173.5 127.0,173.6 128.0,173.7 129.0,173.7 130.0,173.7 131.0,173.7 132.0,173.6 133.0,173.6 134.0,173.5 135.0,173.4 136.0,173.3 137.0,173.2 138.0,173.1 139.0,173.0 140.0,172.8 141.0,172.6 142.0,172.5 143.0,172.3 144.0,172.0 145.0,171.7 146.0,171.5 147.0,171.1 148.0,170.8 149.0,170.5 150.0,170.1 151.0,169.7 152.0,169.4 153.0,169.0 154.0,168.6 155.0,168.2 156.0,167.7 157.0,167.2 158.0,166.7 159.0,166.2 160.0,165.7 161.0,165.1 162.0,164.5 163.0,163.9 164.0,163.3 165.0,162.7 166.0,162.1 167.0,161.5 168.0,160.9 169.0,160.4 170.0,159.8 171.0,159.3 172.0,158.7 173.0,158.2 174.0,157.7 175.0,157.2 176.0,156.7 177.0,156.2 178.0,155.6 179.0,155.1 180.0,154.5 181.0,154.0 182.0,153.4 183.0,152.9 184.0,152.3 185.0,151.7 186.0,151.2 187.0,150.7 188.0,150.2 189.0,149.7 190.0,149.2 191.0,148.8 192.0,148.4 193.0,148.0 194.0,147.6 195.0,147.3 196.0,146.9 197.0,146.6 198.0,146.4 199.0,146.1 200.0,145.9 201.0,145.8 202.0,145.7 203.0,145.6 204.0,145.6 205.0,145.5 206.0,145.5 207.0,145.5 208.0,145.5 209.0,145.5 210.0,145.5 211.0,145.5 212.0,145.5 213.0,145.5 214.0,145.4 215.0,145.4 216.0,145.4 217.0,145.4 218.0,145.4 219.0,145.4 220.0,145.5 221.0,145.5 222.0,145.6 223.0,145.6 224.0,145.7 225.0,145.7 226.0,145.8 227.0,145.8 228.0,145.9 229.0,146.0 230.0,146.1 231.0,146.1 232.0,146.2 233.0,146.4 234.0,146.5 235.0,146.6 236.0,146.8 237.0,146.9 238.0,147.1 239.0,147.3 240.0,147.5 241.0,147.7 242.0,147.9 243.0,148.1 244.0,148.3 245.0,148.6 246.0,148.8 247.0,149.1 248.0,149.4 249.0,149.7 250.0,150.0 251.0,150.4 252.0,150.7 253.0,151.1 254.0,151.5 255.0,152.0 256.0,152.5 257.0,153.0 258.0,153.5 259.0,154.1 260.0,154.7 261.0,155.3 262.0,155.9 263.0,156.6 264.0,157.2 265.0,157.9 266.0,158.6 267.0,159.3 268.0,160.0 269.0,160.8 270.0,161.6 271.0,162.5 272.0,163.4 273.0,164.4 274.0,165.3 275.0,166.3 276.0,167.3 277.0,168.3 278.0,169.3 279.0,170.3 280.0,171.3 281.0,172.3 282.0,173.2 283.0,174.1 284.0,175.0 285.0,175.8 286.0,176.6 287.0,177.5 288.0,178.4 289.0,179.3 290.0,180.2 291.0,181.2 292.0,182.2 293.0,183.1 294.0,184.0 295.0,184.9 296.0,185.7 297.0,186.5 298.0,187.3 299.0,188.0 300.0,188.7 301.0,189.4 302.0,190.1 303.0,190.7 304.0,191.3 305.0,191.8 306.0,192.4 307.0,192.9 308.0,193.3 309.0,193.8 310.0,194.2 311.0,194.6 312.0,195.0 313.0,195.4 314.0,195.7 315.0,196.1 316.0,196.3 317.0,196.6 318.0,196.9 319.0,197.1 320.0,197.3 321.0,197.4 322.0,197.6 323.0,197.7 324.0,197.8"/>
<path d="M49.0,-0.3 50.0,11.5 51.0,22.1 52.0,33.2 53.0,45.6 54.0,54.5 55.0,61.1 56.0,65.9 57.0,70.0 58.0,74.4 59.0,78.9 60.0,83.1 61.0,86.6 62.0,89.2 63.0,91.6 64.0,94.0 65.0,96.3 66.0,98.5 67.0,100.7 68.0,102.7 69.0,104.5 70.0,106.1 71.0,107.4 72.0,108.4 73.0,109.3 74.0,110.3 75.0,111.2 76.0,112.2 77.0,113.2 78.0,114.3 79.0,115.3 80.0,116.3 81.0,117.3 82.0,118.5 83.0,119.8 84.0,121.1 85.0,122.6 86.0,124.1 87.0,125.7 88.0,127.5 89.0,129.2 90.0,131.1 91.0,133.1 92.0,135.1 93.0,137.1 94.0,139.0 95.0,140.7 96.0,142.3 97.0,143.8 98.0,145.5 99.0,147.1 100.0,148.7 101.0,150.3 102.0,151.9 103.0,153.5 104.0,155.0 105.0,156.5 106.0,158.0 107.0,159.5 108.0,160.8 109.0,162.2 110.0,163.4 111.0,164.6 112.0,165.7 113.0,166.8 114.0,167.8 115.0,168.6 116.0,169.4 117.0,170.1 118.0,170.7 119.0,171.3 120.0,171.7 121.0,172.1 122.0,172.4 123.0,172.7 124.0,172.9 125.0,173.0 126.0,173.2 127.0,173.3 128.0,173.3 129.0,173.3 130.0,173.3 131.0,173.3 132.0,173.3 133.0,173.2 134.0,173.1 135.0,173.1 136.0,173.0 137.0,172.9 138.0,172.7 139.0,172.6 140.0,172.5 141.0,172.3 142.0,172.1 143.0,171.9 144.0,171.7 145.0,171.4 146.0,171.1 147.0,170.8 148.0,170.5 149.0,170.1 150.0,169.8 151.0,169.4 152.0,169.0 153.0,168.6 154.0,168.2 155.0,167.8 156.0,167.4 157.0,166.9 158.0,166.4 159.0,165.9 160.0,165.3 161.0,164.7 162.0,164.2 163.0,163.6 164.0,163.0 165.0,162.4 166.0,161.8 167.0,161.2 168.0,160.6 169.0,160.0 170.0,159.4 171.0,158.9 172.0,158.4 173.0,157.9 174.0,157.3 175.0,156.8 176.0,156.3 177.0,155.8 178.0,155.3 179.0,154.7 180.0,154.2 181.0,153.6 182.0,153.1 183.0,152.5 184.0,151.9 185.0,151.4 186.0,150.8 187.0,150.3 188.0,149.8 189.0,149.4 190.0,148.9 191.0,148.5 192.0,148.0 193.0,147.6 194.0,147.3 195.0,146.9 196.0,146.6 197.0,146.3 198.0,146.0 199.0,145.8 200.0,145.6 201.0,145.4 202.0,145.3 203.0,145.3 204.0,145.2 205.0,145.2 206.0,145.2 207.0,145.2 208.0,145.2 209.0,145.2 210.0,145.2 211.0,145.2 212.0,145.1 213.0,145.1 214.0,145.1 215.0,145.1 216.0,145.1 217.0,145.0 218.0,145.1 219.0,145.1 220.0,145.1 221.0,145.2 222.0,145.2 223.0,145.3 224.0,145.3 225.0,145.4 226.0,145.4 227.0,145.5 228.0,145.6 229.0,145.6 230.0,145.7 231.0,145.8 232.0,145.9 233.0,146.0 234.0,146.1 235.0,146.3 236.0,146.4 237.0,146.6 238.0,146.7 239.0,146.9 240.0,147.1 241.0,147.3 242.0,147.5 243.0,147.7 244.0,148.0 245.0,148.2 246.0,148.5 247.0,148.7 248.0,149.0 249.0,149.3 250.0,149.7 251.0,150.0 252.0,150.4 253.0,150.8 254.0,151.2 255.0,151.6 256.0,152.1 257.0,152.6 258.0,153.2 259.0,153.7 260.0,154.3 261.0,154.9 262.0,155.6 263.0,156.2 264.0,156.9 265.0,157.6 266.0,158.3 267.0,159.0 268.0,159.7 269.0,160.5 270.0,161.3 271.0,162.2 272.0,163.1 273.0,164.0 274.0,165.0 275.0,166.0 276.0,167.0 277.0,168.0 278.0,169.0 279.0,170.0 280.0,171.0 281.0,171.9 282.0,172.9 283.0,173.8 284.0,174.6 285.0,175.4 286.0,176.3 287.0,177.1 288.0,178.0 289.0,178.9 290.0,179.9 291.0,180.9 292.0,181.8 293.0,182.7 294.0,183.6 295.0,184.5 296.0,185.3 297.0,186.2 298.0,186.9 299.0,187.7 300.0,188.4 301.0,189.1 302.0,189.7 303.0,190.4 304.0,190.9 305.0,191.5 306.0,192.0 307.0,192.5 308.0,193.0 309.0,193.4 310.0,193.9 311.0,194.3 312.0,194.7 313.0,195.0 314.0,195.4 315.0,195.7 316.0,196.0 317.0,196.3 318.0,196.5 319.0,196.7 320.0,196.9 321.0,197.1 322.0,197.2 323.0,197.3 324.0,197.4"/>
<path d="M49.0,0.0 50.0,11.9 51.0,22.4 52.0,33.6 53.0,46.0 54.0,54.9 55.0,61.4 56.0,66.3 57.0,70.3 58.0,74.7 59.0,79.2 60.0,83.4 61.0,86.9 62.0,89.6 63.0,92.0 64.0,94.3 65.0,96.6 66.0,98.9 67.0,101.1 68.0,103.1 69.0,104.9 70.0,106.5 71.0,107.7 72.0,108.7 73.0,109.7 74.0,110.6 75.0,111.6 76.0,112.6 77.0,113.6 78.0,114.6 79.0,115.6 80.0,116.6 81.0,117.7 82.0,118.9 83.0,120.1 84.0,121.5 85.0,122.9 86.0,124.4 87.0,126.1 88.0,127.8 89.0,129.6 90.0,131.4 91.0,133.4 92.0,135.4 93.0,137.5 94.0,139.3 95.0,141.1 96.0,142.6 97.0,144.2 98.0,145.8 99.0,147.4 100.0,149.1 101.0,150.7 102.0,152.3 103.0,153.8 104.0,155.4 105.0,156.9 106.0,158.4 107.0,159.8 108.0,161.2 109.0,162.5 110.0,163.8 111.0,165.0 112.0,166.1 113.0,167.1 114.0,168.1 115.0,169.0 116.0,169.8 117.0,170.5 118.0,171.1 119.0,171.6 120.0,172.1 121.0,172.5 122.0,172.8 123.0,173.0 124.0,173.2 125.0,173.4 126.0,173.5 127.0,173.6 128.0,173.7 129.0,173.7 130.0,173.7 131.0,173.7 132.0,173.6 133.0,173.6 134.0,173.5 135.0,173.4 136.0,173.3 137.0,173.2 138.0,173.1 139.0,173.0 140.0,172.8 141.0,172.6 142.0,172.5 143.0,172.3 144.0,172.0 145.0,171.7 146.0,171.5 147.0,171.1 148.0,170.8 149.0,170.5 150.0,170.1 151.0,169.7 152.0,169.4 153.0,169.0 154.0,168.6 155.0,168.2 156.0,167.7 157.0,167.3 158.0,166.8 159.0,166.3 160.0,165.7 161.0,165.2 162.0,164.6 163.0,164.1 164.0,163.5 165.0,163.0 166.0,162.4 167.0,161.9 168.0,161.3 169.0,160.8 170.0,160.3 171.0,159.8 172.0,159.3 173.0,158.9 174.0,158.4 175.0,158.0 176.0,157.5 177.0,157.1 178.0,156.6 179.0,156.1 180.0,155.6 181.0,155.2 182.0,154.6 183.0,154.1 184.0,153.6 185.0,153.1 186.0,152.6 187.0,152.1 188.0,151.7 189.0,151.2 190.0,150.8 191.0,150.4 192.0,150.0 193.0,149.6 194.0,149.2 195.0,148.9 196.0,148.5 197.0,148.2 198.0,148.0 199.0,147.7 200.0,147.5 201.0,147.4 202.0,147.2 203.0,147.1 204.0,147.0 205.0,146.9 206.0,146.9 207.0,146.8 208.0,146.8 209.0,146.7 210.0,146.7 211.0,146.6 212.0,146.5 213.0,146.5 214.0,146.4 215.0,146.4 216.0,146.3 217.0,146.3 218.0,146.3 219.0,146.3 220.0,146.3 221.0,146.3 222.0,146.3 223.0,146.3 224.0,146.4 225.0,146.4 226.0,146.4 227.0,146.5 228.0,146.5 229.0,146.6 230.0,146.7 231.0,146.7 232.0,146.8 233.0,146.9 234.0,147.0 235.0,147.2 236.0,147.3 237.0,147.4 238.0,147.6 239.0,147.8 240.0,147.9 241.0,148.1 242.0,148.3 243.0,148.5 244.0,148.7 245.0,148.9 246.0,149.1 247.0,149.4 248.0,149.6 249.0,149.9 250.0,150.2 251.0,150.5 252.0,150.9 253.0,151.2 254.0,151.6 255.0,152.1 256.0,152.5 257.0,153.0 258.0,153.5 259.0,154.1 260.0,154.7 261.0,155.3 262.0,155.9 263.0,156.6 264.0,157.2 265.0,157.9 266.0,158.6 267.0,159.3 268.0,160.0 269.0,160.8 270.0,161.6 271.0,162.5 272.0,163.4 273.0,164.4 274.0,165.3 275.0,166.3 276.0,167.3 277.0,168.3 278.0,169.3 279.0,170.3 280.0,171.3 281.0,172.3 282.0,173.2 283.0,174.1 284.0,175.0 285.0,175.8 286.0,176.6 287.0,177.5 288.0,178.4 289.0,179.3 290.0,180.2 291.0,181.2 292.0,182.2 293.0,183.1 294.0,184.0 295.0,184.9 296.0,185.7 297.0,186.5 298.0,187.3 299.0,188.0 300.0,188.7 301.0,189.4 302.0,190.1 303.0,190.7 304.0,191.3 305.0,191.8 306.0,192.4 307.0,192.9 308.0,193.3 309.0,193.8 310.0,194.2 311.0,194.6 312.0,195.0 313.0,195.4 314.0,195.7 315.0,196.1 316.0,196.3 317.0,196.6 318.0,196.9 319.0,197.1 320.0,197.3 321.0,197.4 322.0,197.6 323.0,197.7 324.0,197.8" stroke-opacity="0.85"/>
<path d="M49.0,0.0 50.0,11.9 51.0,22.4 52.0,33.6 53.0,46.0 54.0,54.9 55.0,61.4 56.0,66.3 57.0,70.3 58.0,74.7 59.0,79.2 60.0,83.4 61.0,86.9 62.0,89.6 63.0,92.0 64.0,94.3 65.0,96.6 66.0,98.9 67.0,101.1 68.0,103.1 69.0,104.9 70.0,106.5 71.0,107.7 72.0,108.7 73.0,109.7 74.0,110.6 75.0,111.6 76.0,112.6 77.0,113.6 78.0,114.6 79.0,115.6 80.0,116.6 81.0,117.7 82.0,118.9 83.0,120.1 84.0,121.5 85.0,122.9 86.0,124.4 87.0,126.1 88.0,127.8 89.0,129.6 90.0,131.4 91.0,133.4 92.0,135.4 93.0,137.5 94.0,139.3 95.0,141.1 96.0,142.6 97.0,144.2 98.0,145.8 99.0,147.4 100.0,149.1 101.0,150.7 102.0,152.3 103.0,153.8 104.0,155.4 105.0,156.9 106.0,158.4 107.0,159.8 108.0,161.2 109.0,162.5 110.0,163.8 111.0,165.0 112.0,166.1 113.0,167.1 114.0,168.1 115.0,169.0 116.0,169.8 117.0,170.5 118.0,171.1 119.0,171.6 120.0,172.1 121.0,172.5 122.0,172.8 123.0,173.0 124.0,173.2 125.0,173.4 126.0,173.5 127.0,173.6 128.0,173.7 129.0,173.7 130.0,173.7 131.0,173.7 132.0,173.6 133.0,173.6 134.0,173.5 135.0,173.4 136.0,173.3 137.0,173.2 138.0,173.1 139.0,173.0 140.0,172.8 141.0,172.6 142.0,172.5 143.0,172.3 144.0,172.0 145.0,171.7 146.0,171.5 147.0,171.1 148.0,170.8 149.0,170.5 150.0,170.1 151.0,169.7 152.0,169.4 153.0,169.0 154.0,168.6 155.0,168.2 156.0,167.7 157.0,167.3 158.0,166.8 159.0,166.3 160.0,165.8 161.0,165.3 162.0,164.8 163.0,164.2 164.0,163.7 165.0,163.2 166.0,162.7 167.0,162.2 168.0,161.7 169.0,161.3 170.0,160.8 171.0,160.4 172.0,160.0 173.0,159.6 174.0,159.2 175.0,158.8 176.0,158.4 177.0,158.0 178.0,157.6 179.0,157.2 180.0,156.7 181.0,156.3 182.0,155.9 183.0,155.4 184.0,155.0 185.0,154.5 186.0,154.1 187.0,153.6 188.0,153.2 189.0,152.8 190.0,152.4 191.0,152.0 192.0,151.6 193.0,151.2 194.0,150.8 195.0,150.5 196.0,150.2 197.0,149.9 198.0,149.6 199.0,149.3 200.0,149.1 201.0,148.9 202.0,148.8 203.0,148.6 204.0,148.5 205.0,148.3 206.0,148.2 207.0,148.1 208.0,148.0 209.0,147.9 210.0,147.8 211.0,147.7 212.0,147.6 213.0,147.5 214.0,147.4 215.0,147.3 216.0,147.2 217.0,147.2 218.0,147.1 219.0,147.1 220.0,147.1 221.0,147.0 222.0,147.0 223.0,147.0 224.0,147.1 225.0,147.1 226.0,147.1 227.0,147.1 228.0,147.2 229.0,147.2 230.0,147.3 231.0,147.3 232.0,147.4 233.0,147.5 234.0,147.6 235.0,147.7 236.0,147.8 237.0,148.0 238.0,148.1 239.0,148.3 240.0,148.4 241.0,148.6 242.0,148.7 243.0,148.9 244.0,149.1 245.0,149.3 246.0,149.5 247.0,149.7 248.0,149.9 249.0,150.2 250.0,150.4 251.0,150.7 252.0,151.0 253.0,151.4 254.0,151.7 255.0,152.1 256.0,152.6 257.0,153.1 258.0,153.6 259.0,154.1 260.0,154.7 261.0,155.3 262.0,155.9 263.0,156.6 264.0,157.2 265.0,157.9 266.0,158.6 267.0,159.3 268.0,160.0 269.0,160.8 270.0,161.6 271.0,162.5 272.0,163.4 273.0,164.4 274.0,165.3 275.0,166.3 276.0,167.3 277.0,168.3 278.0,169.3 279.0,170.3 280.0,171.3 281.0,172.3 282.0,173.2 283.0,174.1 284.0,175.0 285.0,175.8 286.0,176.6 287.0,177.5 288.0,178.4 289.0,179.3 290.0,180.2 291.0,181.2 292.0,182.2 293.0,183.1 294.0,184.0 295.0,184.9 296.0,185.7 297.0,186.5 298.0,187.3 299.0,188.0 300.0,188.7 301.0,189.4 302.0,190.1 303.0,190.7 304.0,191.3 305.0,191.8 306.0,192.4 307.0,192.9 308.0,193.3 309.0,193.8 310.0,194.2 311.0,194.6 312.0,195.0 313.0,195.4 314.0,195.7 315.0,196.1 316.0,196.3 317.0,196.6 318.0,196.9 319.0,197.1 320.0,197.3 321.0,197.4 322.0,197.6 323.0,197.7 324.0,197.8" stroke-opacity="0.9"/>
<path d="M240.0,140.8 241.0,141.1 242.0,141.4 243.0,141.7 244.0,142.0 245.0,142.3 246.0,142.6 247.0,143.0 248.0,143.3 249.0,143.7 250.0,144.1 251.0,144.5 252.0,144.9 253.0,145.4 254.0,145.9 255.0,146.4 256.0,146.9 257.0,147.5 258.0,148.1 259.0,148.7 260.0,149.3 261.0,149.9 262.0,150.6 263.0,151.3 264.0,151.9 265.0,152.6 266.0,153.4 267.0,154.1 268.0,154.9 269.0,155.6 270.0,156.5 271.0,157.3 272.0,158.2 273.0,159.0 274.0,159.9 275.0,160.8 276.0,161.7 277.0,162.6 278.0,163.5 279.0,164.4 280.0,165.3 281.0,166.1 282.0,167.0 283.0,167.9 284.0,168.7 285.0,169.5 286.0,170.4 287.0,171.2 288.0,172.0 289.0,172.9 290.0,173.7 291.0,174.5 292.0,175.4 293.0,176.1 294.0,176.9 295.0,177.7 296.0,178.4 297.0,179.1 298.0,179.8 299.0,180.5 300.0,181.2 301.0,181.8 302.0,182.5 303.0,183.1 304.0,183.7 305.0,184.3 306.0,184.9 307.0,185.5 308.0,186.0 309.0,186.6 310.0,187.0 311.0,187.5 312.0,187.9 313.0,188.3 314.0,188.7 315.0,189.1 316.0,189.4 317.0,189.7 318.0,190.0 319.0,190.3 320.0,190.6 321.0,190.8 322.0,191.0 323.0,191.2 324.0,191.3 324.0,197.8 323.0,197.7 322.0,197.6 321.0,197.4 320.0,197.3 319.0,197.1 318.0,196.9 317.0,196.6 316.0,196.3 315.0,196.1 314.0,195.7 313.0,195.4 312.0,195.0 311.0,194.6 310.0,194.2 309.0,193.8 308.0,193.3 307.0,192.9 306.0,192.4 305.0,191.8 304.0,191.3 303.0,190.7 302.0,190.1 301.0,189.4 300.0,188.7 299.0,188.0 298.0,187.3 297.0,186.5 296.0,185.7 295.0,184.9 294.0,184.0 293.0,183.1 292.0,182.2 291.0,181.2 290.0,180.2 289.0,179.3 288.0,178.4 287.0,177.5 286.0,176.6 285.0,175.8 284.0,175.0 283.0,174.1 282.0,173.2 281.0,172.3 280.0,171.3 279.0,170.3 278.0,169.3 277.0,168.3 276.0,167.3 275.0,166.3 274.0,165.3 273.0,164.4 272.0,163.4 271.0,162.5 270.0,161.6 269.0,160.8 268.0,160.0 267.0,159.3 266.0,158.6 265.0,157.9 264.0,157.2 263.0,156.6 262.0,155.9 261.0,155.3 260.0,154.7 259.0,154.1 258.0,153.5 257.0,153.0 256.0,152.5 255.0,152.0 254.0,151.5 253.0,151.1 252.0,150.7 251.0,150.4 250.0,150.0 249.0,149.7 248.0,149.4 247.0,149.1 246.0,148.8 245.0,148.6 244.0,148.3 243.0,148.1 242.0,147.9 241.0,147.7 240.0,147.5Z" fill="url(#g1)" stroke="none"/>
<path d="M47.0,-54.7 48.0,-43.9 49.0,-33.2 50.0,-22.7 51.0,-12.3 52.0,-2.2 53.0,7.8 54.0,17.8 55.0,27.3 56.0,36.1 57.0,44.2 58.0,51.3 59.0,57.5 60.0,62.4 61.0,65.9 62.0,68.7 63.0,71.4 64.0,74.3 65.0,77.1 66.0,79.6 67.0,81.8 68.0,83.9 69.0,85.7 70.0,87.3 71.0,88.7 72.0,90.0 73.0,91.2 74.0,92.4 75.0,93.6 76.0,94.7 77.0,95.8 78.0,96.8 79.0,97.9 80.0,98.9 80.0,116.6 79.0,115.6 78.0,114.6 77.0,113.6 76.0,112.6 75.0,111.6 74.0,110.6 73.0,109.7 72.0,108.7 71.0,107.7 70.0,106.5 69.0,104.9 68.0,103.1 67.0,101.1 66.0,98.9 65.0,96.6 64.0,94.3 63.0,92.0 62.0,89.6 61.0,86.9 60.0,83.4 59.0,79.2 58.0,74.7 57.0,70.3 56.0,66.3 55.0,61.4 54.0,54.9 53.0,46.0 52.0,33.6 51.0,22.4 50.0,11.9 49.0,0.0 48.0,-13.5 47.0,-28.4Z" fill="url(#g2)" stroke="none"/>
<path d="M80.0,105.1 81.0,106.3 82.0,107.7 83.0,109.2 84.0,110.9 85.0,112.6 86.0,114.4 87.0,116.3 88.0,118.3 89.0,120.4 90.0,122.8 91.0,125.2 92.0,127.6 93.0,129.9 94.0,132.1 95.0,134.1 96.0,136.1 97.0,138.1 98.0,140.1 99.0,142.1 100.0,144.0 101.0,146.0 102.0,147.9 103.0,149.7 104.0,151.4 105.0,153.1 106.0,154.7 107.0,156.2 108.0,157.7 109.0,159.1 110.0,160.4 111.0,161.7 112.0,162.9 113.0,164.0 114.0,165.0 115.0,165.9 116.0,166.7 117.0,167.5 118.0,168.1 119.0,168.7 120.0,169.2 121.0,169.7 122.0,170.0 123.0,170.3 124.0,170.6 125.0,170.8 126.0,170.9 127.0,171.0 128.0,171.1 129.0,171.1 130.0,171.1 131.0,171.0 132.0,170.9 133.0,170.7 134.0,170.6 135.0,170.4 136.0,170.1 137.0,169.9 138.0,169.5 139.0,169.2 140.0,168.8 141.0,168.3 142.0,167.9 143.0,167.4 144.0,166.9 145.0,166.3 146.0,165.7 147.0,165.2 148.0,164.6 149.0,163.9 150.0,163.3 150.0,170.1 149.0,170.5 148.0,170.8 147.0,171.1 146.0,171.5 145.0,171.7 144.0,172.0 143.0,172.3 142.0,172.5 141.0,172.6 140.0,172.8 139.0,173.0 138.0,173.1 137.0,173.2 136.0,173.3 135.0,173.4 134.0,173.5 133.0,173.6 132.0,173.6 131.0,173.7 130.0,173.7 129.0,173.7 128.0,173.7 127.0,173.6 126.0,173.5 125.0,173.4 124.0,173.2 123.0,173.0 122.0,172.8 121.0,172.5 120.0,172.1 119.0,171.6 118.0,171.1 117.0,170.5 116.0,169.8 115.0,169.0 114.0,168.1 113.0,167.1 112.0,166.1 111.0,165.0 110.0,163.8 109.0,162.5 108.0,161.2 107.0,159.8 106.0,158.4 105.0,156.9 104.0,155.4 103.0,153.8 102.0,152.3 101.0,150.7 100.0,149.1 99.0,147.4 98.0,145.8 97.0,144.2 96.0,142.6 95.0,141.1 94.0,139.3 93.0,137.5 92.0,135.4 91.0,133.4 90.0,131.4 89.0,129.6 88.0,127.8 87.0,126.1 86.0,124.4 85.0,122.9 84.0,121.5 83.0,120.1 82.0,118.9 81.0,117.7 80.0,116.6Z" fill="url(#g2)" stroke="none"/>
</g>
<g stroke="#000" stroke-width="1.3" fill="none">
<line x1="47.0" y1="3.9999999999999996" x2="47.0" y2="210.6"/>
<line x1="46.4" y1="210.0" x2="324.6" y2="210.0"/>
</g>
<g stroke="#000" stroke-width="1.3" fill="none">
<line x1="47.00" y1="210.0" x2="47.00" y2="213.9"/>
<line x1="66.79" y1="210.0" x2="66.79" y2="212.8"/>
<line x1="86.57" y1="210.0" x2="86.57" y2="213.9"/>
<line x1="106.36" y1="210.0" x2="106.36" y2="212.8"/>
<line x1="126.14" y1="210.0" x2="126.14" y2="213.9"/>
<line x1="145.93" y1="210.0" x2="145.93" y2="212.8"/>
<line x1="165.71" y1="210.0" x2="165.71" y2="213.9"/>
<line x1="185.50" y1="210.0" x2="185.50" y2="212.8"/>
<line x1="205.29" y1="210.0" x2="205.29" y2="213.9"/>
<line x1="225.07" y1="210.0" x2="225.07" y2="212.8"/>
<line x1="244.86" y1="210.0" x2="244.86" y2="213.9"/>
<line x1="264.64" y1="210.0" x2="264.64" y2="212.8"/>
<line x1="284.43" y1="210.0" x2="284.43" y2="213.9"/>
<line x1="304.21" y1="210.0" x2="304.21" y2="212.8"/>
<line x1="324.00" y1="210.0" x2="324.00" y2="213.9"/>
<line x1="47.0" y1="210.00" x2="42.6" y2="210.00"/>
<line x1="47.0" y1="175.77" x2="44.2" y2="175.77"/>
<line x1="47.0" y1="141.53" x2="42.6" y2="141.53"/>
<line x1="47.0" y1="107.30" x2="44.2" y2="107.30"/>
<line x1="47.0" y1="73.07" x2="42.6" y2="73.07"/>
<line x1="47.0" y1="38.83" x2="44.2" y2="38.83"/>
<line x1="47.0" y1="4.60" x2="42.6" y2="4.60"/>
</g>
<g font-size="12.6px" fill="#000" stroke="#000" stroke-width="0.3">
<text x="47.0" y="229" text-anchor="middle">350</text>
<text x="86.6" y="229" text-anchor="middle">400</text>
<text x="126.1" y="229" text-anchor="middle">450</text>
<text x="165.7" y="229" text-anchor="middle">500</text>
<text x="205.3" y="229" text-anchor="middle">550</text>
<text x="244.9" y="229" text-anchor="middle">600</text>
<text x="284.4" y="229" text-anchor="middle">650</text>
<text x="324.0" y="229" text-anchor="middle">700</text>
<g font-size="12.1px">
<text x="38.5" y="215.7" text-anchor="end">0.0</text>
<text x="38.5" y="147.2" text-anchor="end">0.3</text>
<text x="38.5" y="78.8" text-anchor="end">0.6</text>
<text x="38.5" y="10.3" text-anchor="end">0.9</text>
</g>
</g>
<text x="182" y="251.8" font-size="15.3px" text-anchor="middle" textLength="109.5" lengthAdjust="spacingAndGlyphs" fill="#000" stroke="#000" stroke-width="0.25">Wavelength [nm]</text>
<text transform="translate(11.8,106.95) rotate(-90) scale(1,0.945)" font-size="14.75px" text-anchor="middle" fill="#000" stroke="#000" stroke-width="0.25">Absorbance</text>
<text transform="translate(123.1,94.7) scale(1.01,1)" font-size="12.1px" fill="#000" stroke="#000" stroke-width="0.2"><tspan font-style="italic">cis</tspan><tspan dx="-0.5">-[Co</tspan><tspan dx="0.2">(en)</tspan><tspan font-size="5.6px" dx="0" dy="2.8">2</tspan><tspan dx="-0.3" dy="-2.8">Cl</tspan><tspan font-size="5.6px" dx="0.4" dy="2.8">2</tspan><tspan dx="0.2" dy="-2.8">]</tspan><tspan font-size="5px" dx="0.5" dy="-6.5">+</tspan></text>
<text transform="translate(151.9,192.2) scale(1.01,1)" font-size="12.1px" fill="#000" stroke="#000" stroke-width="0.2"><tspan font-style="italic">trans</tspan><tspan dx="0.3">-[Co</tspan><tspan dx="0.3">(en)</tspan><tspan font-size="5.6px" dx="0" dy="2.8">2</tspan><tspan dx="-0.3" dy="-2.8">Cl</tspan><tspan font-size="5.6px" dx="0.4" dy="2.8">2</tspan><tspan dx="0.2" dy="-2.8">]</tspan><tspan font-size="5px" dx="0.5" dy="-6.5">+</tspan></text>
<g stroke="#111" fill="none" stroke-linecap="round" stroke-linejoin="miter">
<line x1="168.6" y1="103.6" x2="199" y2="120.7" stroke-width="1.2"/>
<path d="M193.2,121.1 L199.6,121 L196.7,115.6" stroke-width="1.5"/>
<line x1="197.2" y1="179.6" x2="236.3" y2="158.5" stroke-width="1.2"/>
<path d="M231,157.6 L236.9,158.2 L234.2,162.8" stroke-width="1.5"/>
</g>
</svg>
</body></html>
